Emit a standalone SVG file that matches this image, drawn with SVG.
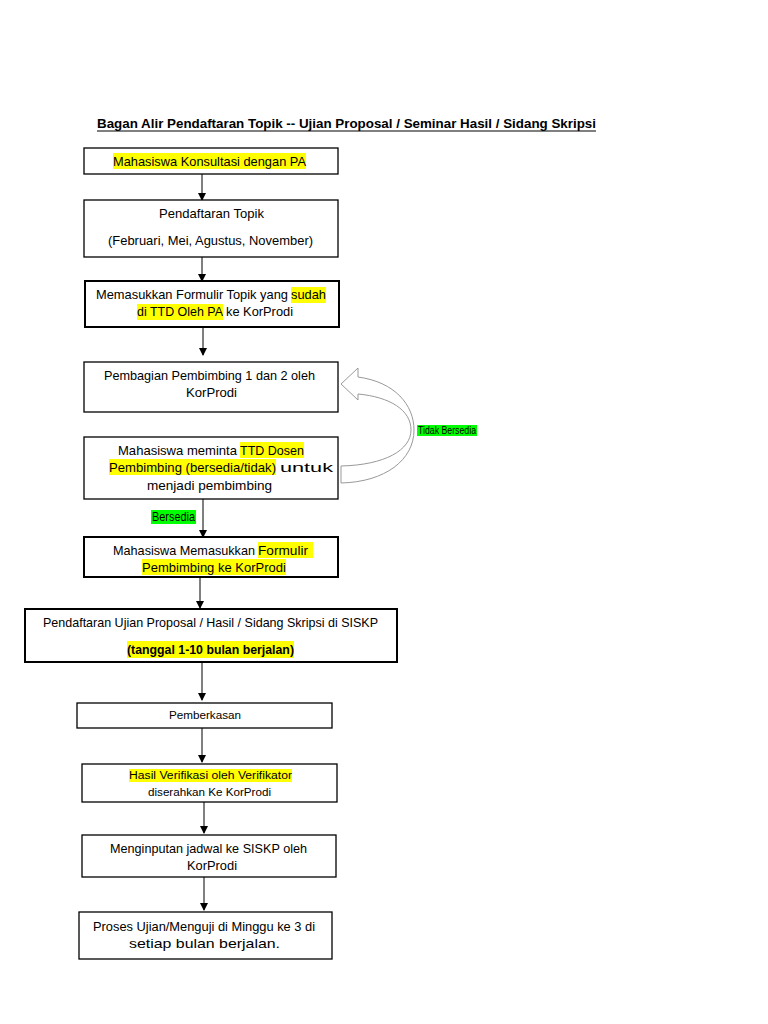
<svg xmlns="http://www.w3.org/2000/svg" width="768" height="1024" viewBox="0 0 768 1024">
<style>
.box{fill:#fff;stroke:#000;stroke-width:1.3}
.b2{stroke-width:2}
text{font-family:"Liberation Sans",Arial,sans-serif;font-size:13px;fill:#000}
.s{font-size:10px}
.y{fill:#ffff00}
.g{fill:#00ff00}
.c{stroke:#000;stroke-width:1;fill:none}
</style>
<defs><marker id="a" markerWidth="8" markerHeight="8" refX="7" refY="4" orient="auto" markerUnits="userSpaceOnUse"><path d="M0,0L8,4L0,8Z" fill="#000"/></marker></defs>
<rect width="768" height="1024" fill="#fff"/>
<text x="97" y="128" font-weight="bold" textLength="499" lengthAdjust="spacingAndGlyphs">Bagan Alir Pendaftaran Topik -- Ujian Proposal / Seminar Hasil / Sidang Skripsi</text>
<line x1="97" y1="131" x2="596" y2="131" stroke="#000" stroke-width="1"/>
<g id="connectors">
<line class="c" x1="202" y1="174" x2="202" y2="200" marker-end="url(#a)"/>
<line class="c" x1="202" y1="257" x2="202" y2="281" marker-end="url(#a)"/>
<line class="c" x1="203" y1="327" x2="203" y2="355" marker-end="url(#a)"/>
<line class="c" x1="203" y1="499" x2="203" y2="537" marker-end="url(#a)"/>
<line class="c" x1="200" y1="577" x2="200" y2="608" marker-end="url(#a)"/>
<line class="c" x1="202" y1="662" x2="202" y2="700" marker-end="url(#a)"/>
<line class="c" x1="202" y1="728" x2="202" y2="762" marker-end="url(#a)"/>
<line class="c" x1="204" y1="802" x2="204" y2="833" marker-end="url(#a)"/>
<line class="c" x1="204" y1="877" x2="204" y2="910" marker-end="url(#a)"/>
<path d="M341,384 L358,368 L358,377 C395,382 414,405 414,430 C414,460 385,482 341,483 L341,466 C385,465 411,450 411,430 C411,410 390,397 358,394 L358,400 Z" fill="#fff" stroke="#999" stroke-width="1"/>
<rect class="g" x="417" y="425" width="60" height="11"/>
<text class="s" x="418" y="434" font-size="9" textLength="58" lengthAdjust="spacingAndGlyphs">Tidak Bersedia</text>
<rect class="g" x="151" y="510" width="45" height="14"/>
<text x="152" y="521" font-size="11" textLength="43" lengthAdjust="spacingAndGlyphs">Bersedia</text>
</g>
<g id="n1"><rect class="box" x="84" y="148" width="254" height="26"/><rect class="y" x="113" y="153" width="193" height="16"/><text x="113" y="166" textLength="193" lengthAdjust="spacingAndGlyphs">Mahasiswa Konsultasi dengan PA</text></g>
<g id="n2"><rect class="box" x="84" y="200" width="254" height="57"/><text x="159" y="218" textLength="105" lengthAdjust="spacingAndGlyphs">Pendaftaran Topik</text><text x="108" y="245" textLength="205" lengthAdjust="spacingAndGlyphs">(Februari, Mei, Agustus, November)</text></g>
<g id="n3"><rect class="box b2" x="85" y="281" width="254" height="46"/><rect class="y" x="291" y="287" width="35" height="16"/><rect class="y" x="137" y="304" width="86" height="16"/>
<text x="96" y="299" textLength="192" lengthAdjust="spacingAndGlyphs">Memasukkan Formulir Topik yang</text><text x="291" y="299" textLength="35" lengthAdjust="spacingAndGlyphs">sudah</text>
<text x="137" y="316" textLength="86" lengthAdjust="spacingAndGlyphs">di TTD Oleh PA</text><text x="226" y="316" textLength="67" lengthAdjust="spacingAndGlyphs">ke KorProdi</text></g>
<g id="n4"><rect class="box" x="84" y="362" width="254" height="50"/><text x="104" y="380" textLength="211" lengthAdjust="spacingAndGlyphs">Pembagian Pembimbing 1 dan 2 oleh</text><text x="186" y="397" textLength="51" lengthAdjust="spacingAndGlyphs">KorProdi</text></g>
<g id="n5"><rect class="box" x="84" y="437" width="254" height="62"/><rect class="y" x="240" y="442" width="64" height="16"/><rect class="y" x="109" y="459" width="167" height="16"/>
<text x="118" y="455" textLength="119" lengthAdjust="spacingAndGlyphs">Mahasiswa meminta</text><text x="240" y="455" textLength="64" lengthAdjust="spacingAndGlyphs">TTD Dosen</text>
<text x="109" y="472" textLength="167" lengthAdjust="spacingAndGlyphs">Pembimbing (bersedia/tidak)</text><text x="280" y="472" textLength="53" lengthAdjust="spacingAndGlyphs">untuk</text>
<text x="147" y="490" textLength="125" lengthAdjust="spacingAndGlyphs">menjadi pembimbing</text></g>
<g id="n6"><rect class="box b2" x="84" y="537" width="254" height="40"/><rect class="y" x="258" y="542" width="55" height="16"/><rect class="y" x="142" y="559" width="144" height="16"/>
<text x="113" y="555" textLength="142" lengthAdjust="spacingAndGlyphs">Mahasiswa Memasukkan</text><text x="258" y="555" textLength="50" lengthAdjust="spacingAndGlyphs">Formulir</text>
<text x="142" y="572" textLength="144" lengthAdjust="spacingAndGlyphs">Pembimbing ke KorProdi</text></g>
<g id="n7"><rect class="box b2" x="25" y="609" width="372" height="53"/><text x="43" y="627" textLength="335" lengthAdjust="spacingAndGlyphs">Pendaftaran Ujian Proposal / Hasil / Sidang Skripsi di SISKP</text><rect class="y" x="127" y="641" width="167" height="17"/><text x="127" y="654" font-weight="bold" textLength="167" lengthAdjust="spacingAndGlyphs">(tanggal 1-10 bulan berjalan)</text></g>
<g id="n8"><rect class="box" x="77" y="703" width="255" height="25"/><text class="s" x="169" y="719" textLength="72" lengthAdjust="spacingAndGlyphs">Pemberkasan</text></g>
<g id="n9"><rect class="box" x="82" y="764" width="255" height="38"/><rect class="y" x="129" y="769" width="163" height="13"/><text class="s" x="129" y="779" textLength="163" lengthAdjust="spacingAndGlyphs">Hasil Verifikasi oleh Verifikator</text><text class="s" x="148" y="796" textLength="123" lengthAdjust="spacingAndGlyphs">diserahkan Ke KorProdi</text></g>
<g id="n10"><rect class="box" x="82" y="835" width="254" height="42"/><text x="110" y="853" textLength="197" lengthAdjust="spacingAndGlyphs">Menginputan jadwal ke SISKP oleh</text><text x="187" y="870" textLength="50" lengthAdjust="spacingAndGlyphs">KorProdi</text></g>
<g id="n11"><rect class="box" x="79" y="912" width="253" height="47"/><text x="93" y="931" textLength="222" lengthAdjust="spacingAndGlyphs">Proses Ujian/Menguji di Minggu ke 3 di</text><text x="129" y="948" textLength="151" lengthAdjust="spacingAndGlyphs">setiap bulan berjalan.</text></g>
</svg>
